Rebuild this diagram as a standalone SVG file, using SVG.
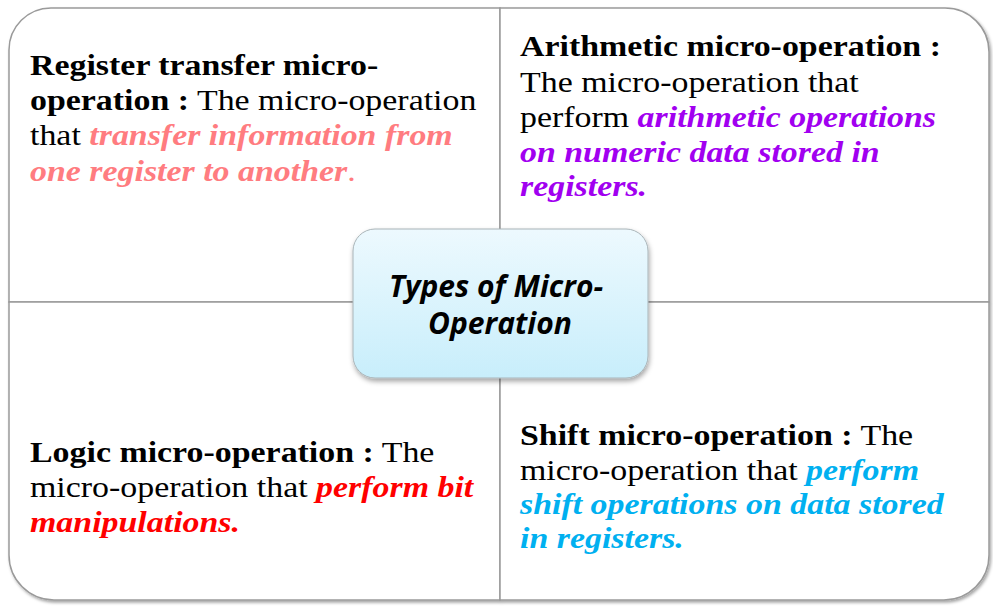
<svg xmlns="http://www.w3.org/2000/svg" width="993" height="607" viewBox="0 0 993 607">
<defs>
<filter id="sh" x="-5%" y="-5%" width="110%" height="110%">
<feDropShadow dx="1.5" dy="2" stdDeviation="1.5" flood-color="#000" flood-opacity="0.35"/>
</filter>
<filter id="sh2" x="-10%" y="-10%" width="120%" height="130%">
<feDropShadow dx="1" dy="3" stdDeviation="2.5" flood-color="#000" flood-opacity="0.35"/>
</filter>
<linearGradient id="cg" x1="0" y1="0" x2="0" y2="1">
<stop offset="0" stop-color="#EDF9FE"/>
<stop offset="1" stop-color="#C8EEFB"/>
</linearGradient>
<style>
.q{fill:#fff;stroke:#9a9a9a;stroke-width:1.5}
.t{font-family:"Liberation Serif","Times New Roman",serif;font-size:30px;fill:#000}
.b{font-weight:bold}
.i{font-weight:bold;font-style:italic}
.pink{fill:#FF7C80}
.purple{fill:#A100F0}
.red{fill:#FF0000}
.blue{fill:#00B0F0}
.c{font-family:"Open Sans","Noto Sans",sans-serif;font-weight:bold;font-style:italic;font-size:30px;fill:#000}
</style>
</defs>
<g id="frame" filter="url(#sh)">
<g id="q-register">
<path class="q" d="M9,302 V50 A42,42 0 0 1 51,8 H500 V302 Z"/>
</g>
<g id="q-arithmetic">
<path class="q" d="M500,8 H945 A44,44 0 0 1 989,52 V302 H500 Z"/>
</g>
<g id="q-logic">
<path class="q" d="M9,302 H500 V600 H54 A45,45 0 0 1 9,555 Z"/>
</g>
<g id="q-shift">
<path class="q" d="M500,302 H989 V555 A45,45 0 0 1 944,600 H500 Z"/>
</g>
</g>
<g id="connectors"></g>
<g id="text-register" transform="matrix(1.13,0,0,1,-3.9,0)">
<text class="t">
<tspan x="30" y="75" class="b">Register transfer micro-</tspan>
<tspan x="30" y="110"><tspan class="b">operation :</tspan> The micro-operation</tspan>
<tspan x="30" y="145">that <tspan class="i pink">transfer information from</tspan></tspan>
<tspan x="30" y="181" class="i pink">one register to another<tspan font-weight="normal" font-style="normal">.</tspan></tspan>
</text>
</g>
<g id="text-arithmetic" transform="matrix(1.13,0,0,1,-67.6,0)">
<text class="t">
<tspan x="520" y="56" class="b">Arithmetic micro-operation :</tspan>
<tspan x="520" y="92">The micro-operation that</tspan>
<tspan x="520" y="127">perform <tspan class="i purple">arithmetic operations</tspan></tspan>
<tspan x="520" y="162" class="i purple">on numeric data stored in</tspan>
<tspan x="520" y="196" class="i purple">registers.</tspan>
</text>
</g>
<g id="text-logic" transform="matrix(1.13,0,0,1,-3.9,0)">
<text class="t">
<tspan x="30" y="462"><tspan class="b">Logic micro-operation :</tspan> The</tspan>
<tspan x="30" y="497">micro-operation that <tspan class="i red">perform bit</tspan></tspan>
<tspan x="30" y="532" class="i red">manipulations.</tspan>
</text>
</g>
<g id="text-shift" transform="matrix(1.13,0,0,1,-67.6,0)">
<text class="t">
<tspan x="520" y="445"><tspan class="b">Shift micro-operation :</tspan> The</tspan>
<tspan x="520" y="480">micro-operation that <tspan class="i blue">perform</tspan></tspan>
<tspan x="520" y="514" class="i blue">shift operations on data stored</tspan>
<tspan x="520" y="548" class="i blue">in registers.</tspan>
</text>
</g>
<g id="center">
<rect x="353" y="229" width="295" height="149" rx="22" fill="url(#cg)" stroke="#a9b4b8" stroke-width="1" filter="url(#sh2)"/>
<text class="c" text-anchor="middle">
<tspan x="500" y="297">Types of Micro-</tspan>
<tspan x="500" y="334">Operation</tspan>
</text>
</g>
</svg>
